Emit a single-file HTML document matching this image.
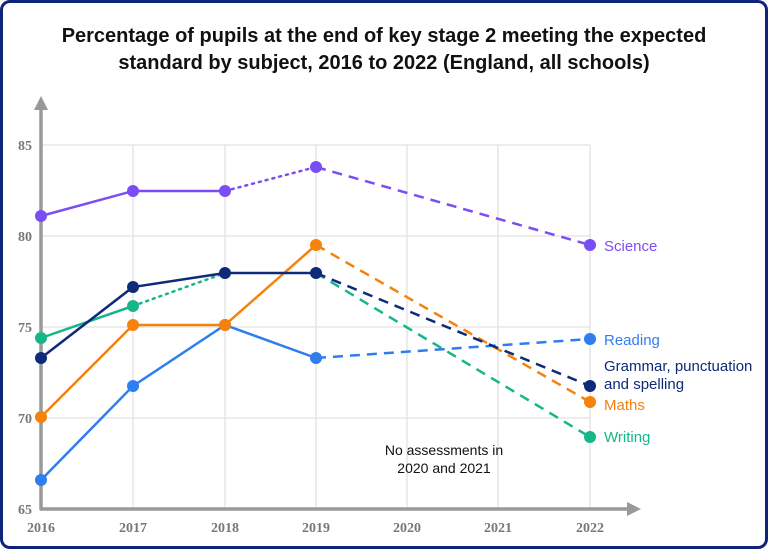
<!DOCTYPE html>
<html><head><style>
body{margin:0;background:#fff;}
.f{position:absolute;left:0;top:0;width:762px;height:543px;border:3px solid #0e2479;border-radius:10px;background:#fff;}
</style></head><body>
<div class="f"></div>
<svg width="768" height="549" style="position:absolute;left:0;top:0">
<g font-family="Liberation Sans, sans-serif" font-weight="bold" font-size="20" fill="#111" text-anchor="middle">
<text x="384" y="42">Percentage of pupils at the end of key stage 2 meeting the expected</text>
<text x="384" y="69">standard by subject, 2016 to 2022 (England, all schools)</text>
</g>
<g stroke="#e2e2e2" stroke-width="1.3">
<line x1="41" y1="145" x2="590" y2="145"/><line x1="41" y1="236" x2="590" y2="236"/>
<line x1="41" y1="327" x2="590" y2="327"/><line x1="41" y1="418" x2="590" y2="418"/>
<line x1="133" y1="145" x2="133" y2="509"/><line x1="225" y1="145" x2="225" y2="509"/>
<line x1="316" y1="145" x2="316" y2="509"/><line x1="407" y1="145" x2="407" y2="509"/>
<line x1="498" y1="145" x2="498" y2="509"/><line x1="590" y1="145" x2="590" y2="509"/>
</g>
<g stroke="#999" stroke-width="3.5"><line x1="41" y1="510" x2="41" y2="108"/><line x1="40" y1="509" x2="628" y2="509"/></g>
<polygon points="41,96 34,110 48,110" fill="#999"/>
<polygon points="641,509 627,502 627,516" fill="#999"/>
<g font-family="Liberation Serif, serif" font-weight="bold" font-size="14" fill="#777">
<g text-anchor="end"><text x="32" y="150">85</text><text x="32" y="241">80</text><text x="32" y="332">75</text><text x="32" y="423">70</text><text x="32" y="514">65</text></g>
<g text-anchor="middle"><text x="41" y="532">2016</text><text x="133" y="532">2017</text><text x="225" y="532">2018</text><text x="316" y="532">2019</text><text x="407" y="532">2020</text><text x="498" y="532">2021</text><text x="590" y="532">2022</text></g>
</g>
<g fill="none" stroke-width="2.5">
<polyline stroke="#17b688" points="41,338 133,306"/>
<polyline stroke="#17b688" stroke-dasharray="2,5" stroke-linecap="round" points="133,306 225,273"/>
<polyline stroke="#17b688" stroke-dasharray="10,7" points="316,273 590,437"/>
<polyline stroke="#2f7ef0" points="41,480 133,386 225,325 316,358"/>
<polyline stroke="#2f7ef0" stroke-dasharray="10,7" points="316,358 590,339"/>
<polyline stroke="#f5820d" points="41,417 133,325 225,325 316,245"/>
<polyline stroke="#f5820d" stroke-dasharray="10,7" points="316,245 590,402"/>
<polyline stroke="#0e2a78" points="41,358 133,287 225,273 316,273"/>
<polyline stroke="#0e2a78" stroke-dasharray="10,7" points="316,273 590,386"/>
<polyline stroke="#7b4df5" points="41,216 133,191 225,191"/>
<polyline stroke="#7b4df5" stroke-dasharray="2,5" stroke-linecap="round" points="225,191 316,167"/>
<polyline stroke="#7b4df5" stroke-dasharray="10,7" points="316,167 590,245"/>
</g>
<g fill="#17b688"><circle cx="41" cy="338" r="6"/><circle cx="133" cy="306" r="6"/><circle cx="590" cy="437" r="6"/></g>
<g fill="#2f7ef0"><circle cx="41" cy="480" r="6"/><circle cx="133" cy="386" r="6"/><circle cx="225" cy="325" r="6"/><circle cx="316" cy="358" r="6"/><circle cx="590" cy="339" r="6"/></g>
<g fill="#f5820d"><circle cx="41" cy="417" r="6"/><circle cx="133" cy="325" r="6"/><circle cx="225" cy="325" r="6"/><circle cx="316" cy="245" r="6"/><circle cx="590" cy="402" r="6"/></g>
<g fill="#0e2a78"><circle cx="41" cy="358" r="6"/><circle cx="133" cy="287" r="6"/><circle cx="225" cy="273" r="6"/><circle cx="316" cy="273" r="6"/><circle cx="590" cy="386" r="6"/></g>
<g fill="#7b4df5"><circle cx="41" cy="216" r="6"/><circle cx="133" cy="191" r="6"/><circle cx="225" cy="191" r="6"/><circle cx="316" cy="167" r="6"/><circle cx="590" cy="245" r="6"/></g>
<g font-family="Liberation Sans, sans-serif" font-size="15">
<text x="604" y="251" fill="#7b4df5">Science</text>
<text x="604" y="345" fill="#2f7ef0">Reading</text>
<text x="604" y="371" fill="#0e2a78">Grammar, punctuation</text>
<text x="604" y="389" fill="#0e2a78">and spelling</text>
<text x="604" y="410" fill="#f5820d">Maths</text>
<text x="604" y="442" fill="#17b688">Writing</text>
</g>
<g font-family="Liberation Sans, sans-serif" font-size="14" fill="#111" text-anchor="middle"><text x="444" y="455">No assessments in</text><text x="444" y="473">2020 and 2021</text></g>
</svg>
</body></html>
